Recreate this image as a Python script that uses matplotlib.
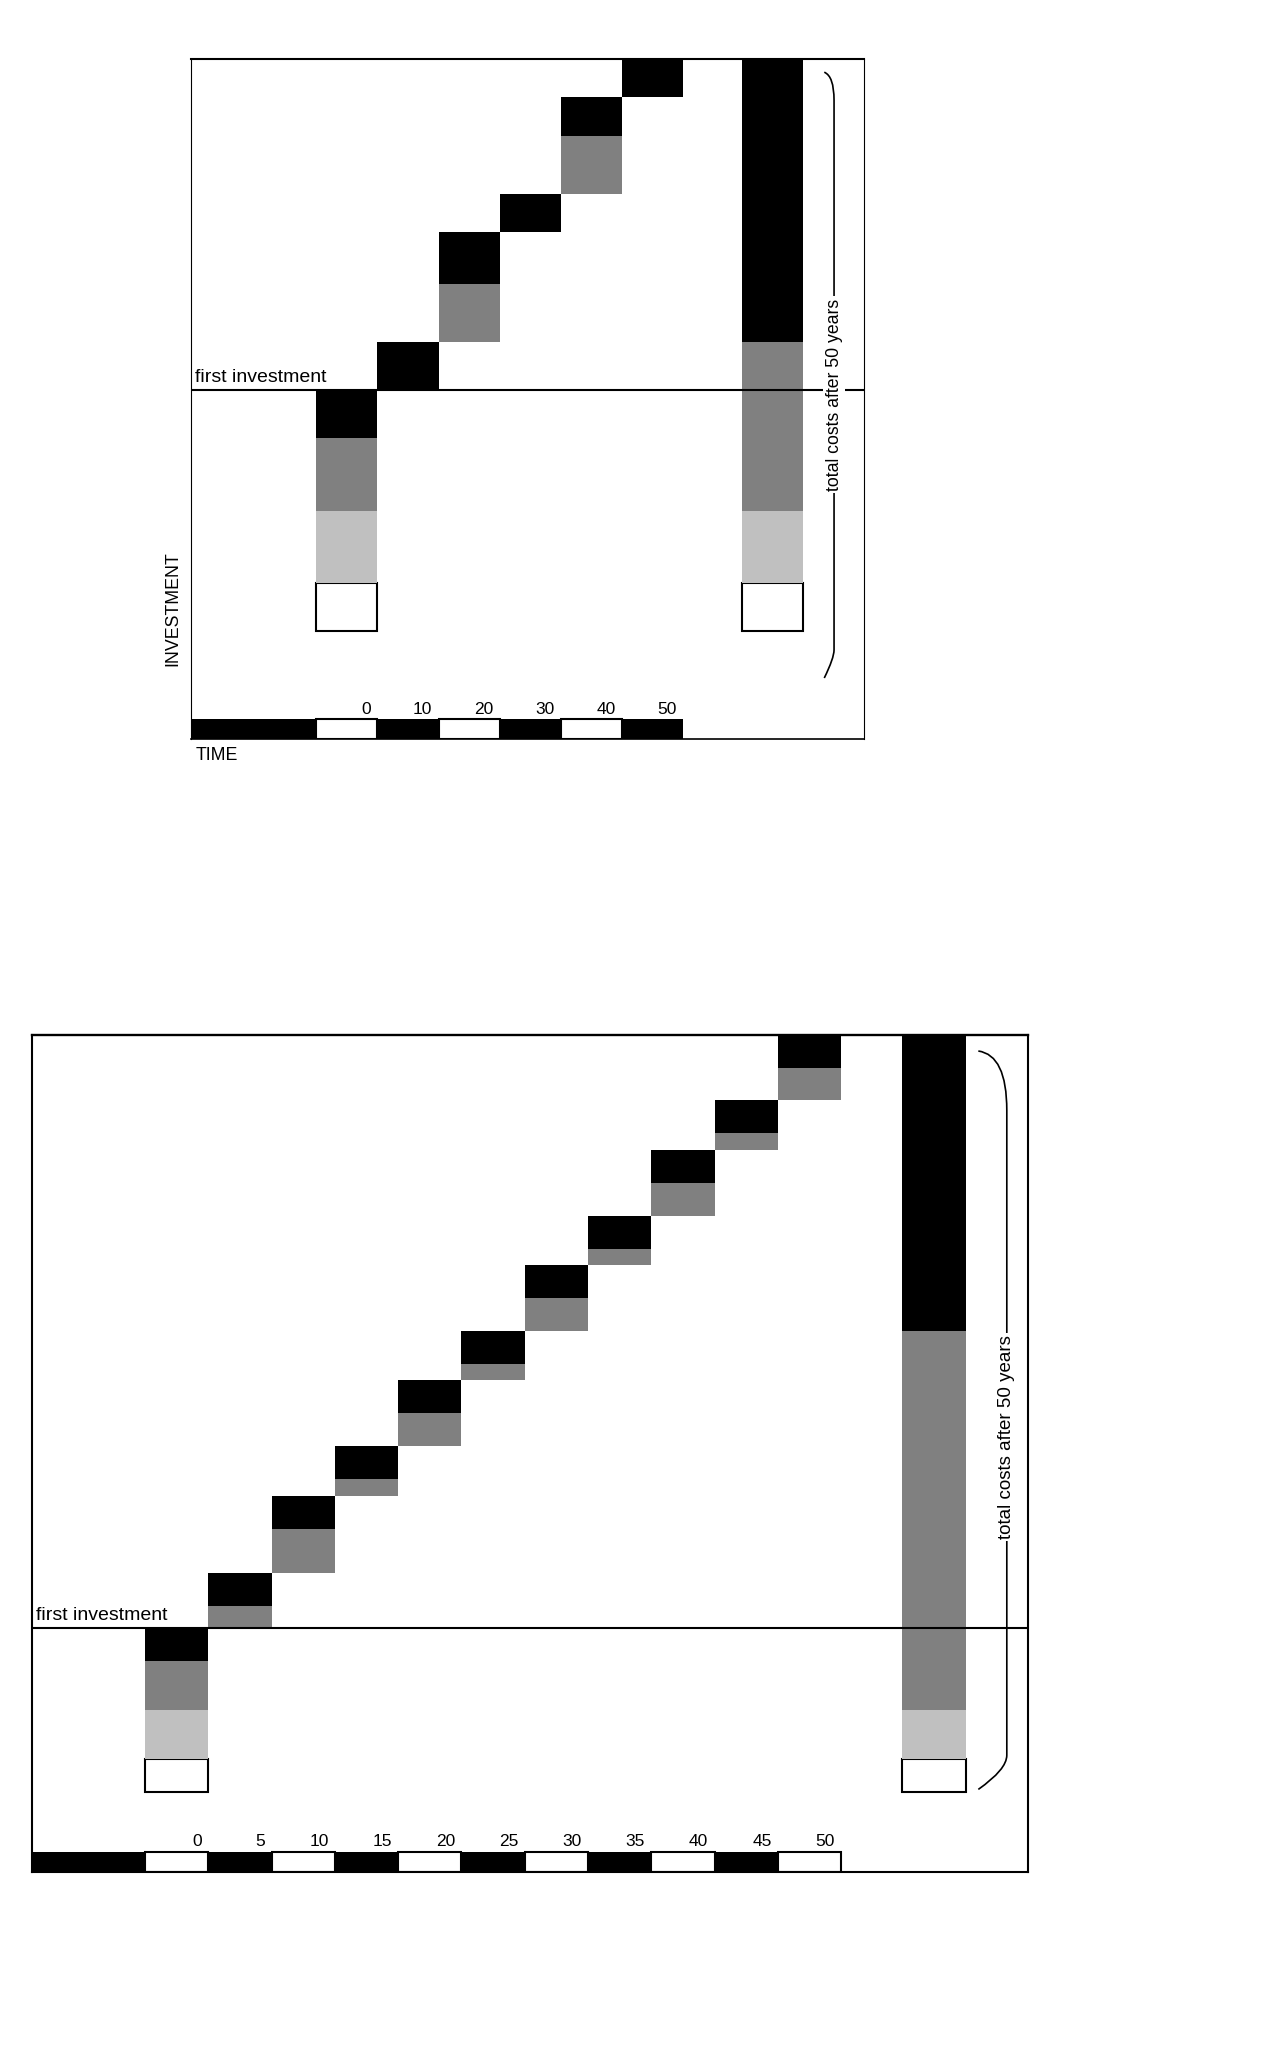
import numpy as np
import matplotlib.pyplot as plt
from matplotlib.path import Path
from matplotlib.patches import PathPatch

# Верхняя схема: шаг 10 лет
years_top = [0, 10, 20, 30, 40, 50]
top_white = [4.8, 0, 0, 0, 0, 0]
top_light = [7.2, 0, 0, 0, 0, 0]
top_gray = [7.3, 0, 5.8, 0, 5.85, 0]
top_black = [4.8, 4.8, 5.2, 3.8, 3.85, 3.85]
top_total = [4.8, 7.2, 16.9, 28.35]  # white, light, gray, black

# Нижняя схема: шаг 5 лет
years_bot = [0, 5, 10, 15, 20, 25, 30, 35, 40, 45, 50]
bot_white = [3.33, 0, 0, 0, 0, 0, 0, 0, 0, 0, 0]
bot_light = [4.88, 0, 0, 0, 0, 0, 0, 0, 0, 0, 0]
bot_gray = [4.94, 2.15, 4.4, 1.7, 3.3, 1.57, 3.3, 1.63, 3.3, 1.7, 3.25]
bot_black = [3.33, 3.3, 3.3, 3.3, 3.3, 3.3, 3.3, 3.3, 3.3, 3.3, 3.3]
bot_total = [3.33, 4.88, 37.89, 29.68]

label_first = "first investment"
label_total = "total costs after 50 years"

REG = ['Liberation Sans', 'DejaVu Sans']
GRAY = '#808080'
LIGHT = '#c0c0c0'


def draw_panel(ax, years, white, light, gray, black, total,
               x0, xtot, xmax, ymin, ymax, brace, text_y, text_fs, spine_w):
    n = len(years)
    x = x0 + np.arange(n)
    steps = np.array(white) + np.array(light) + np.array(gray) + np.array(black)
    base = np.concatenate([[0], np.cumsum(steps)[:-1]])

    # ступенчатая диаграмма
    b = base.copy()
    for vals, col in [(white, 'white'), (light, LIGHT), (gray, GRAY), (black, 'black')]:
        vals = np.array(vals)
        m = vals > 0
        if col == 'white':
            ax.bar(x[m], vals[m], bottom=b[m], width=1, align='edge',
                   color='white', edgecolor='black', linewidth=1.5, zorder=2)
        else:
            ax.bar(x[m], vals[m], bottom=b[m], width=1, align='edge',
                   color=col, linewidth=0, zorder=2)
        b = b + vals

    # итоговый столбец
    tb = 0
    for v, col in zip(total, ['white', LIGHT, GRAY, 'black']):
        if col == 'white':
            ax.bar(xtot, v, bottom=tb, width=1, align='edge', color='white',
                   edgecolor='black', linewidth=1.5, zorder=2)
        else:
            ax.bar(xtot, v, bottom=tb, width=1, align='edge', color=col,
                   linewidth=0, zorder=2)
        tb += v

    # линия первой инвестиции
    first = steps[0]
    ax.axhline(first, color='black', lw=1.5, zorder=3)
    ax.text(0.07, first + 0.4, label_first, family=REG, fontsize=14,
            ha='left', va='bottom', zorder=4)

    # шкала времени
    tl_h = 2.0
    ax.bar(0, tl_h, bottom=ymin, width=x0, align='edge', color='black',
           linewidth=0, zorder=2)
    for k in range(n):
        if k % 2 == 0:
            ax.bar(x[k], tl_h, bottom=ymin, width=1, align='edge', color='white',
                   edgecolor='black', linewidth=1.5, zorder=2)
        else:
            ax.bar(x[k], tl_h, bottom=ymin, width=1, align='edge', color='black',
                   linewidth=0, zorder=2)
        ax.text(x[k] + 0.9, ymin + tl_h + 0.25, str(years[k]), family=REG,
                fontsize=12.5, ha='right', va='bottom')

    # скобка
    (sx, sy), xv, (yt, yb), (ex, ey) = brace
    verts = [(sx, sy), (xv, sy - 0.4), (xv, yt), (xv, yb), (xv, ey + 2.0), (ex, ey)]
    codes = [Path.MOVETO, Path.CURVE3, Path.CURVE3, Path.LINETO, Path.CURVE3, Path.CURVE3]
    ax.add_patch(PathPatch(Path(verts, codes), fill=False, lw=1.2, color='black',
                           zorder=3, clip_on=False))
    ax.text(xv, text_y, label_total, rotation=90, family=REG, fontsize=text_fs,
            ha='center', va='center', zorder=5,
            bbox=dict(facecolor='white', edgecolor='none', pad=1.5))

    ax.set_xlim(0, xmax)
    ax.set_ylim(ymin, ymax)
    ax.set_xticks([])
    ax.set_yticks([])
    for side, w in spine_w.items():
        ax.spines[side].set_linewidth(w)
        ax.spines[side].set_zorder(6)


W, H = 1263, 2071
fig = plt.figure(figsize=(W / 100, H / 100), dpi=100)

ax1 = fig.add_axes([191 / W, 1 - 739 / H, (864 - 191) / W, (739 - 58.7) / H])
draw_panel(ax1, years_top, top_white, top_light, top_gray, top_black, top_total,
           x0=2.05, xtot=9.02, xmax=11.01, ymin=-10.8, ymax=57.25,
           brace=((10.36, 55.9), 10.52, (53.1, -1.9), (10.36, -4.7)),
           text_y=23.65, text_fs=12.7,
           spine_w={'top': 1.5, 'left': 0.8, 'right': 0.8, 'bottom': 1.2})

ax2 = fig.add_axes([32 / W, 1 - 1871.7 / H, (1027.7 - 32) / W, (1871.7 - 1034.5) / H])
draw_panel(ax2, years_bot, bot_white, bot_light, bot_gray, bot_black, bot_total,
           x0=1.785, xtot=13.75, xmax=15.73, ymin=-7.94, ymax=75.78,
           brace=((14.95, 74.13), 15.40, (68.2, 3.7), (14.95, 0.29)),
           text_y=35.57, text_fs=13.5,
           spine_w={'top': 1.7, 'left': 1.5, 'right': 1.5, 'bottom': 1.5})

fig.text(173 / W, 1 - 608.5 / H, "INVESTMENT", rotation=90, family=REG,
         fontsize=12.8, ha='center', va='center')
fig.text(196 / W, 1 - 755.5 / H, "TIME", family=REG, fontsize=12.8,
         ha='left', va='center')

fig.savefig("out.png", dpi=100)
